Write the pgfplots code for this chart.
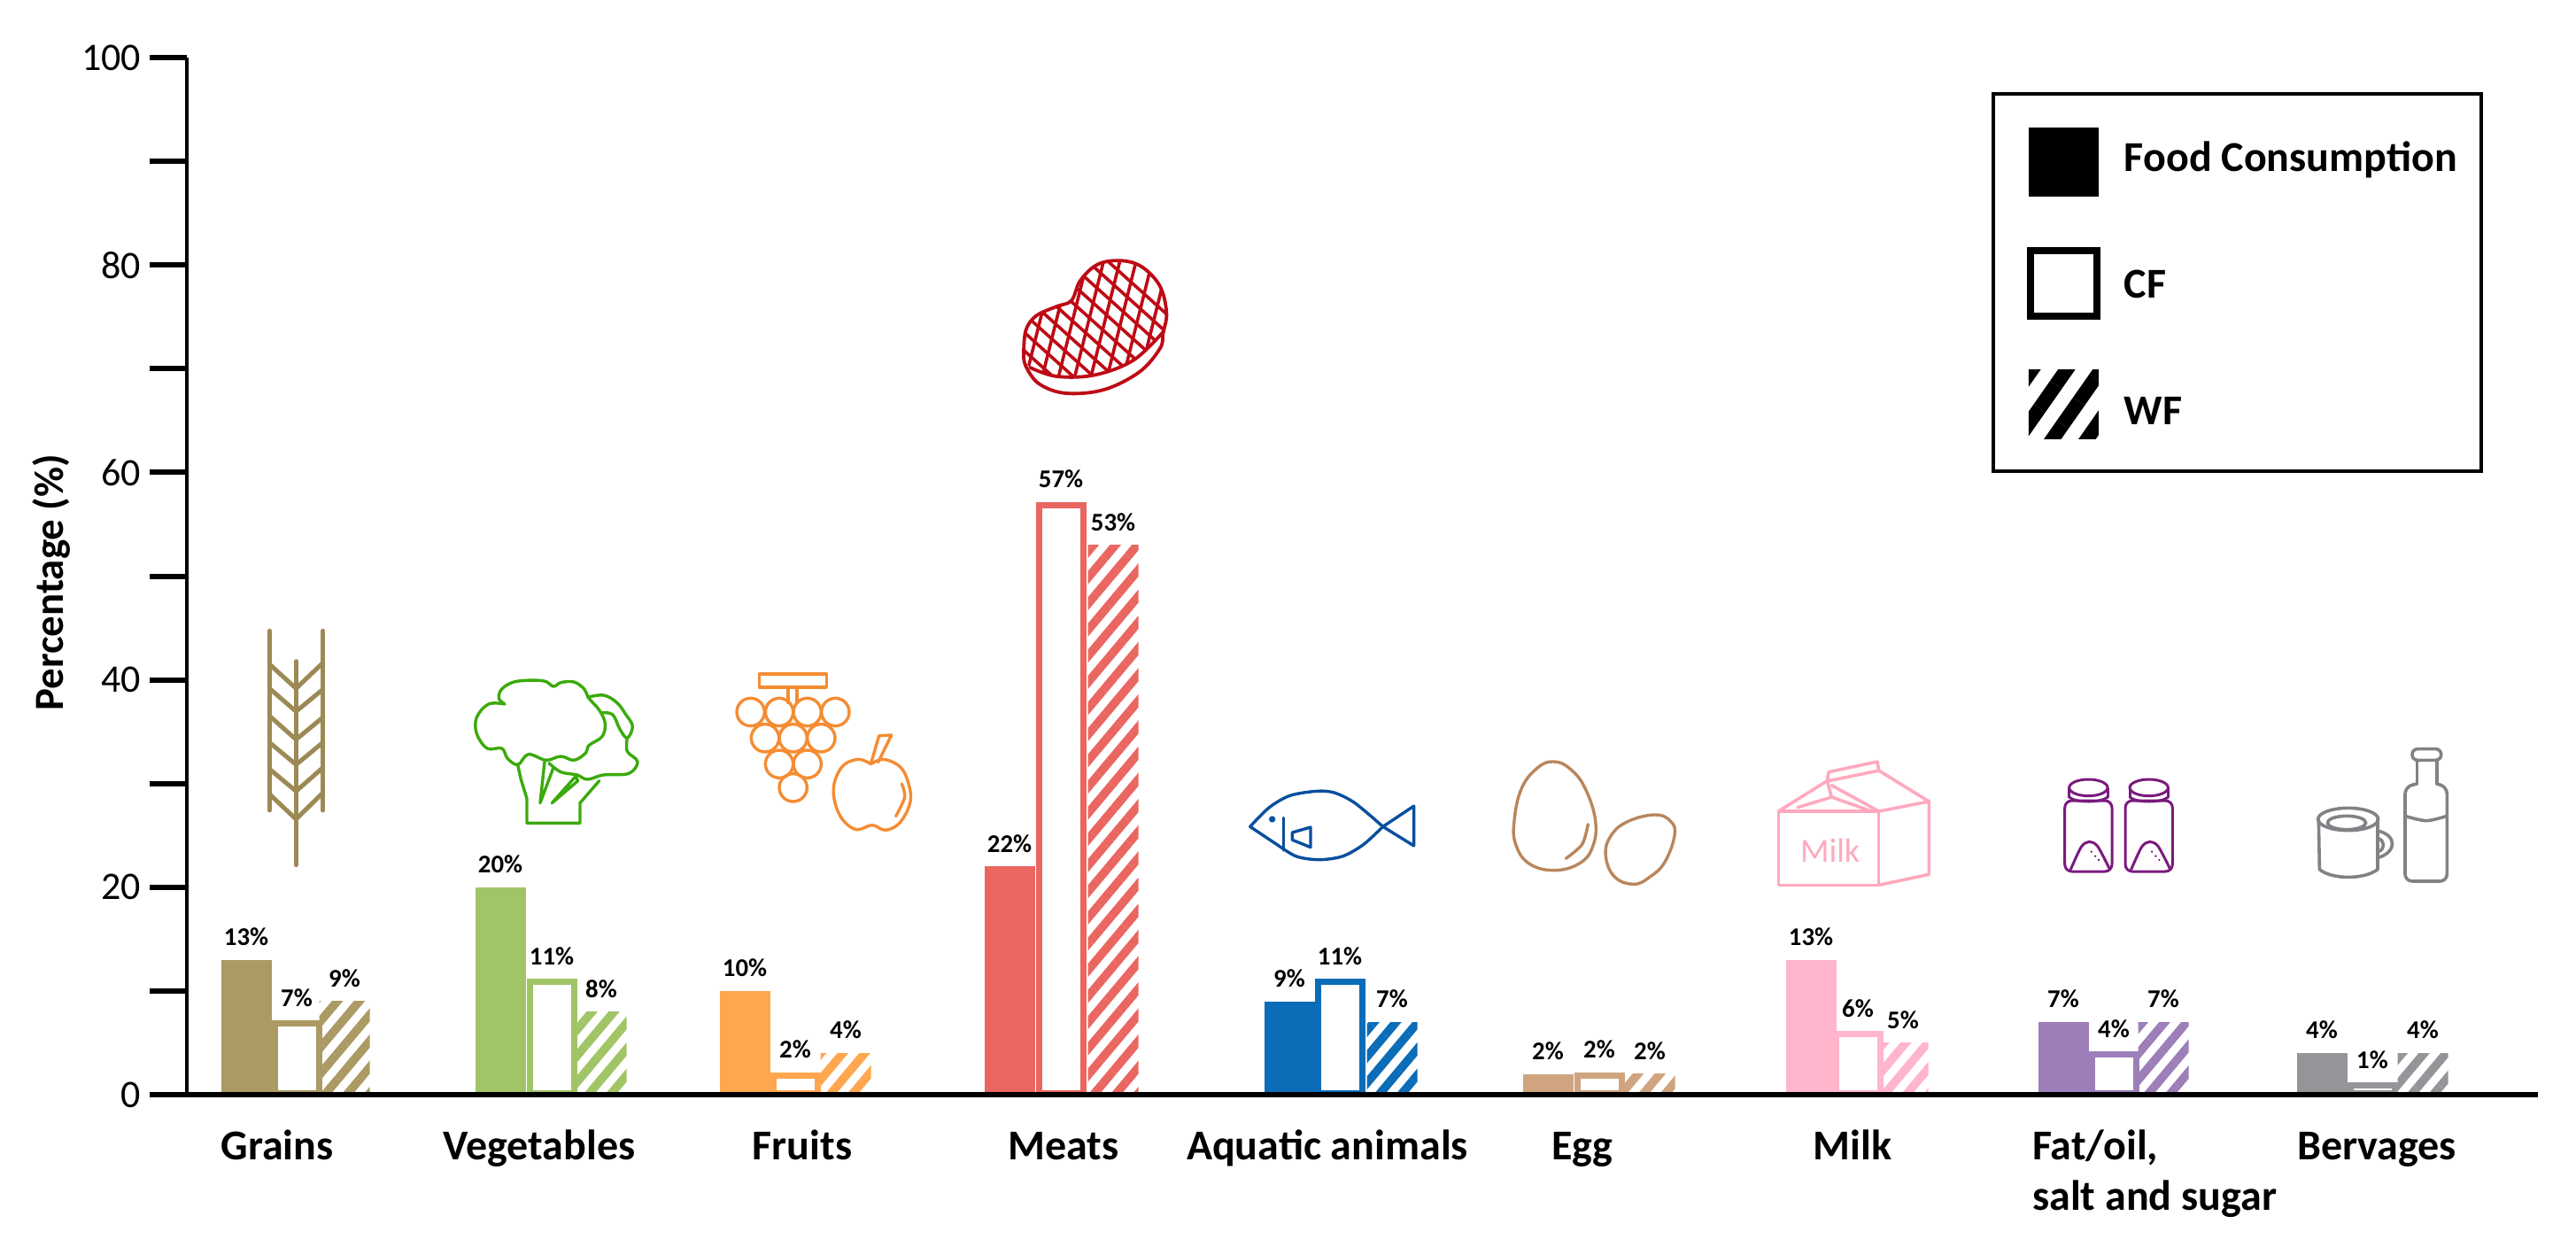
\documentclass[border=0pt]{standalone}
\usepackage{fontspec}
\setmainfont{Carlito}
\usepackage{pgfplots}
\pgfplotsset{compat=1.18}
\usetikzlibrary{patterns.meta}

% bars
\definecolor{GrainC}{HTML}{AB9A63}
\definecolor{VegC}{HTML}{A1C566}
\definecolor{FruitC}{HTML}{FFA64F}
\definecolor{MeatC}{HTML}{EA6661}
\definecolor{FishC}{HTML}{0B6CB7}
\definecolor{EggC}{HTML}{CFA47F}
\definecolor{MilkC}{HTML}{FFB5CB}
\definecolor{FatC}{HTML}{9C7EB8}
\definecolor{BevC}{HTML}{939598}
% icons
\definecolor{GrainI}{HTML}{9C8A55}
\definecolor{VegI}{HTML}{3BAA0C}
\definecolor{FruitI}{HTML}{F58C32}
\definecolor{MeatI}{HTML}{BE0A14}
\definecolor{FishI}{HTML}{0A4F9E}
\definecolor{EggI}{HTML}{B9865C}
\definecolor{MilkI}{HTML}{FFA9BE}
\definecolor{FatI}{HTML}{7A1A7E}
\definecolor{BevI}{HTML}{808285}

\pgfplotsset{
  pct/.style={
    nodes near coords={\pgfmathprintnumber[fixed,precision=0]{\pgfplotspointmeta}\%},
    every node near coord/.style={font=\fontsize{7.2}{8}\selectfont\bfseries,text=black,inner sep=0pt,anchor=south,yshift=#1},
  },
}
% one food group: colour, then x and value of the consumption, CF and WF bars
\newcommand{\foodgroup}[7]{%
  \addplot[ybar,forget plot,bar shift=0pt,bar width=57,fill=#1,draw=none,pct=3.8pt] coordinates {(#2,#3)};
  \addplot[ybar,forget plot,bar shift=0pt,bar width=50,fill=white,draw=#1,line width=1.75pt,yshift=-0.4pt,pct=3.9pt] coordinates {(#4,#5)};
  \addplot[ybar,forget plot,bar shift=0pt,bar width=57,fill=#1,draw=none] coordinates {(#4,0.4)};
  \addplot[ybar,forget plot,bar shift=0pt,bar width=57,draw=none,pattern={Lines[angle=50,distance=4.75pt,line width=2.4pt]},pattern color=#1,pct=3.8pt] coordinates {(#6,#7)};
}
\tikzset{zoomat/.style 2 args={shift={(#1,#2)},x=0.083333pt,y=-0.083333pt}}

\begin{document}
\begin{tikzpicture}
\path[use as bounding box] (0,0) rectangle (727.25pt,351.75pt);
\begin{axis}[
  at={(52.75pt,42.75pt)}, anchor=south west,
  scale only axis, width=663.75pt, height=292.75pt,
  xmin=211, xmax=2866, ymin=0, ymax=100,
  axis x line=bottom, axis y line=left,
  axis on top,
  x axis line style={-,line width=1.6pt,shorten <=-10.5pt},
  y axis line style={-,line width=1pt},
  ytick={0,20,40,60,80,100}, minor y tick num=1,
  tick align=outside,
  major tick length=10.5pt, minor tick length=10.5pt,
  ytick style={black,line width=1.5pt},
  minor y tick style={black,line width=1.5pt},
  xtick style={draw=none},
  yticklabel style={font=\fontsize{11}{14}\selectfont,inner sep=0pt,xshift=-2.25pt},
  /pgf/number format/assume math mode=true,
  xtick={313,609,906,1201,1499,1787,2092,2433,2684},
  xticklabels={\strut Grains,\strut Vegetables,\strut Fruits,\strut Meats,\strut Aquatic animals,\strut Egg,\strut Milk,{\strut Fat/oil,\\salt and sugar},\strut Bervages},
  xticklabel style={font=\fontsize{12}{14.25}\selectfont\bfseries,align=left,inner sep=0pt,anchor=north,yshift=2.4pt},
  ylabel={Percentage (\%)},
  every axis y label/.style={at={(axis description cs:-0.0576,0.494)},rotate=90,anchor=center,font=\fontsize{11.7}{14}\selectfont\bfseries},
  legend style={at={(axis description cs:0.7676,0.9667)},anchor=north west,draw=black,line width=1pt,fill=white,
    inner xsep=6.75pt,inner ysep=9.5pt,row sep=16.15pt,
    nodes={inner sep=0pt,anchor=base west,font=\fontsize{12}{14}\selectfont\bfseries}},
  legend cell align=left,
]
\addlegendimage{legend image code/.code={
  \path[draw=none,fill=none] (-3.25pt,-7pt) rectangle (27pt,12.5pt);
  \fill[black,draw=none] (0pt,-7pt) rectangle (19.75pt,12.5pt);}}
\addlegendentry{Food Consumption}
\addlegendimage{legend image code/.code={
  \path[draw=none,fill=none] (-3.25pt,-7pt) rectangle (27pt,12.5pt);
  \pgfinterruptboundingbox
  \draw[black,fill=none,line width=2pt] (0.5pt,-5.1pt) rectangle (19.25pt,13.4pt);
  \endpgfinterruptboundingbox}}
\addlegendentry{CF}
\addlegendimage{legend image code/.code={
  \path[draw=none,fill=none] (-3.25pt,-3.7pt) rectangle (27pt,12.5pt);
  \pgfinterruptboundingbox
  \fill[draw=none,pattern={Lines[angle=55,distance=8pt,line width=4pt]},pattern color=black] (0pt,-4pt) rectangle (19.75pt,15.5pt);
  \endpgfinterruptboundingbox}}
\addlegendentry{WF}

\foodgroup{GrainC}{278}{13}{335}{7}{389}{9}
\foodgroup{VegC}{565}{20}{623}{11}{679}{8}
\foodgroup{FruitC}{841}{10}{898}{2}{955}{4}
\foodgroup{MeatC}{1140}{22}{1198}{57}{1257}{53}
\foodgroup{FishC}{1456}{9}{1513}{11}{1572}{7}
\foodgroup{EggC}{1748}{2}{1806}{2}{1863}{2}
\foodgroup{MilkC}{2045}{13}{2098}{6}{2149}{5}
\foodgroup{FatC}{2330}{7}{2387}{4}{2443}{7}
\foodgroup{BevC}{2622}{4}{2679}{1}{2736}{4}
\end{axis}

% food icons, in zoomed pixels of their own crop
\begin{scope}[shift={(0,351.75pt)},x=0.25pt,y=-0.25pt,line join=round,line cap=round]
% wheat
\begin{scope}[zoomat={280}{690},GrainI,line width=1.25pt]
\draw (73,67)--(73,675) (254,67)--(254,675) (163,170)--(163,860);
\foreach \a/\b/\c in {180/262/175,262/340/265,355/435/360,445/520/445,535/610/530,620/705/615}
  \draw (73,\a)--(163,\b)--(254,\c);
\end{scope}
% broccoli
\begin{scope}[zoomat={280}{690},VegI,line width=0.85pt]
\draw plot[smooth,tension=0.6] coordinates {(870,315)(850,295)(862,262)(910,238)(1000,236)(1035,255)(1060,242)(1105,240)(1140,265)(1155,295)(1190,335)(1210,380)(1200,425)(1155,455)(1145,480)(1105,505)(1060,492)(1010,505)(950,485)(915,520)(880,500)(860,465)(810,465)(775,415)(775,360)(815,315)(870,315)};
\draw plot[smooth,tension=0.6] coordinates {(1150,292)(1205,285)(1250,310)(1280,350)(1303,390)(1285,430)(1260,400)(1235,350)(1195,345)};
\draw plot[smooth,tension=0.6] coordinates {(1285,430)(1285,475)(1320,510)(1290,550)(1205,555)(1150,570)(1115,555)(1060,545)(1020,515)};
\draw (915,525)--(925,570)--(945,635)--(945,718)--(1125,718)--(1125,650)--(1190,575);
\draw (1005,510)--(990,650)--(1035,530);
\draw (1030,650)--(1110,560)--(1118,575)--cycle;
\end{scope}
% grapes and apple
\begin{scope}[zoomat={800}{740},FruitI,line width=0.85pt]
\draw (172,63) rectangle (400,108);
\draw (270,108)--(270,160) (300,108)--(300,160);
\foreach \cx/\cy in {143/192,240/192,335/192,430/192,192/280,287/280,382/280,240/368,335/368,287/448}
  \draw (\cx,\cy) circle (47);
\draw plot[smooth,tension=0.6] coordinates {(550,368)(510,352)(460,370)(430,420)(425,480)(450,550)(500,590)(555,575)(600,592)(650,565)(685,490)(670,410)(640,370)(590,352)(550,368)};
\draw (550,368)--(578,272)--(620,270)--(575,362);
\draw plot[smooth] coordinates {(655,435)(665,480)(635,545)};
\end{scope}
% steak
\begin{scope}[zoomat={1080}{260},MeatI]
\begin{scope}
\clip plot[smooth,tension=0.6] coordinates {(228,420)(235,340)(270,290)(340,258)(390,238)(420,170)(480,115)(560,103)(630,125)(690,190)(712,280)(700,345)(600,440)(470,490)(340,495)(250,465)(228,420)};
\foreach \k in {-6,...,10}{
  \draw[line width=0.9pt] (150,150+\k*62)--(800,735+\k*62);
  \draw[line width=0.9pt] (330+\k*55,560)--(455+\k*55,60);
}
\end{scope}
\draw[line width=0.95pt] plot[smooth,tension=0.6] coordinates {(228,420)(235,340)(270,290)(340,258)(390,238)(420,170)(480,115)(560,103)(630,125)(690,190)(712,280)(700,350)(690,400)(620,480)(500,540)(370,552)(280,520)(235,460)(228,420)};
\draw[line width=0.95pt] plot[smooth,tension=0.6] coordinates {(250,465)(340,495)(470,490)(600,440)(700,345)};
\end{scope}
% fish
\begin{scope}[zoomat={1390}{840},FishI,line width=0.85pt]
\draw plot[smooth,tension=0.5] coordinates {(65,280)(130,215)(200,175)(290,160)(350,165)(420,200)(515,280)};
\draw plot[smooth,tension=0.5] coordinates {(515,280)(450,340)(380,380)(300,392)(220,380)(140,330)(65,280)};
\draw (515,280)--(620,210)--(620,345)--cycle;
\fill (140,255) circle (11);
\draw (178,250)--(178,360);
\draw (208,300)--(270,282)--(270,350)--(208,325)--cycle;
\end{scope}
% eggs
\begin{scope}[zoomat={1390}{840},EggI,line width=0.85pt]
\draw plot[smooth cycle,tension=0.7] coordinates {(1095,60)(1150,85)(1200,150)(1235,260)(1225,350)(1180,405)(1095,428)(1010,405)(965,340)(960,260)(985,150)(1040,80)};
\draw plot[smooth] coordinates {(1210,272)(1190,340)(1135,388)};
\draw plot[smooth cycle,tension=0.7] coordinates {(1435,240)(1490,262)(1503,310)(1470,400)(1420,450)(1365,475)(1300,450)(1270,380)(1285,315)(1340,265)};
\end{scope}
% milk carton
\begin{scope}[zoomat={1980}{840},MilkI,line width=0.9pt]
\draw (85,228) rectangle (425,478);
\draw (425,228)--(595,195)--(595,442)--(425,478);
\draw (85,228)--(250,125)--(265,180)--(150,215);
\draw (250,125)--(255,95)--(420,60)--(425,90)--(255,125);
\draw (425,90)--(595,195) (265,140)--(425,228) (265,180)--(400,228);
\node[text=MilkI,font=\fontsize{9.5}{10}\selectfont,inner sep=0pt] at (260,360) {Milk};
\end{scope}
% salt and sugar jars
\begin{scope}[zoomat={2300}{840},FatI,line width=0.75pt]
\foreach \dx in {0,205}{
  \begin{scope}[xshift=\dx*0.083333pt]
  \draw (175,148) ellipse (65 and 28);
  \draw (110,150)--(110,180) (240,150)--(240,180);
  \draw (110,180) .. controls (130,200) and (220,200) .. (240,180);
  \draw[rounded corners=2pt] (95,192) rectangle (255,432);
  \draw plot[smooth] coordinates {(115,425)(150,350)(175,332)(205,345)(245,420)};
  \fill (185,365) circle (4) (198,380) circle (4) (210,393) circle (4);
  \end{scope}
}
\end{scope}
% mug and bottle
\begin{scope}[zoomat={2560}{830},BevI,line width=0.9pt]
\draw (275,285) ellipse (102 and 38);
\draw (270,297) ellipse (65 and 23);
\draw (175,285)--(178,455) .. controls (220,490) and (330,490) .. (375,455)--(375,285);
\draw (378,325) .. controls (440,340) and (440,395) .. (378,415);
\draw (378,350) .. controls (400,360) and (400,385) .. (378,395);
\draw[rounded corners=1.5pt] (492,47) rectangle (590,85);
\draw (508,85)--(508,165) (575,85)--(575,165);
\draw[rounded corners=2pt] (508,165)--(468,175)--(468,495)--(610,495)--(610,175)--(575,165);
\draw plot[smooth] coordinates {(470,275)(540,290)(607,275)};
\end{scope}
\end{scope}
\end{tikzpicture}
\end{document}
